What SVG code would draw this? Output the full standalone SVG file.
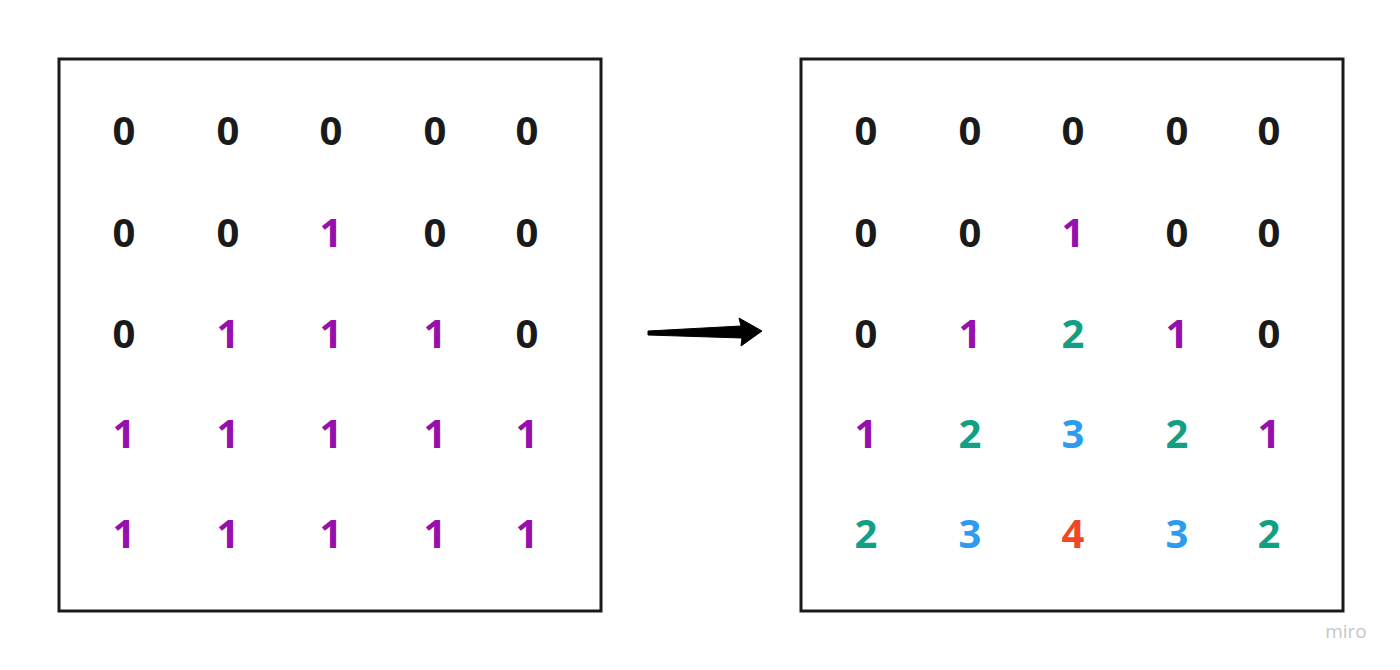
<svg xmlns="http://www.w3.org/2000/svg" width="1400" height="670" viewBox="0 0 1400 670">
<style>
.box{fill:none;stroke:#1a1a1a;stroke-width:3}
text{font-family:"Open Sans","Noto Sans",sans-serif;font-weight:700;font-size:40px;text-anchor:middle}
.k{fill:#1a1a1a}.p{fill:#9510ac}.g{fill:#12a085}.b{fill:#2d9bf0}.r{fill:#f24726}
.w{font-family:"Open Sans",sans-serif;font-weight:400;font-size:19px;fill:#c6c6c6}
</style>
<rect width="1400" height="670" fill="#fff"/>
<g id="left" transform="translate(0,-2)">
<rect class="box" x="59" y="61" width="542" height="552"/>
<text class="k" x="124" y="147">0</text><text class="k" x="228" y="147">0</text><text class="k" x="331" y="147">0</text><text class="k" x="435" y="147">0</text><text class="k" x="527" y="147">0</text>
<text class="k" x="124" y="249">0</text><text class="k" x="228" y="249">0</text><text class="p" x="331" y="249">1</text><text class="k" x="435" y="249">0</text><text class="k" x="527" y="249">0</text>
<text class="k" x="124" y="350">0</text><text class="p" x="228" y="350">1</text><text class="p" x="331" y="350">1</text><text class="p" x="435" y="350">1</text><text class="k" x="527" y="350">0</text>
<text class="p" x="124" y="450">1</text><text class="p" x="228" y="450">1</text><text class="p" x="331" y="450">1</text><text class="p" x="435" y="450">1</text><text class="p" x="527" y="450">1</text>
<text class="p" x="124" y="550">1</text><text class="p" x="228" y="550">1</text><text class="p" x="331" y="550">1</text><text class="p" x="435" y="550">1</text><text class="p" x="527" y="550">1</text>
</g>
<g id="right" transform="translate(0,-2)">
<rect class="box" x="801" y="61" width="542" height="552"/>
<text class="k" x="866" y="147">0</text><text class="k" x="970" y="147">0</text><text class="k" x="1073" y="147">0</text><text class="k" x="1177" y="147">0</text><text class="k" x="1269" y="147">0</text>
<text class="k" x="866" y="249">0</text><text class="k" x="970" y="249">0</text><text class="p" x="1073" y="249">1</text><text class="k" x="1177" y="249">0</text><text class="k" x="1269" y="249">0</text>
<text class="k" x="866" y="350">0</text><text class="p" x="970" y="350">1</text><text class="g" x="1073" y="350">2</text><text class="p" x="1177" y="350">1</text><text class="k" x="1269" y="350">0</text>
<text class="p" x="866" y="450">1</text><text class="g" x="970" y="450">2</text><text class="b" x="1073" y="450">3</text><text class="g" x="1177" y="450">2</text><text class="p" x="1269" y="450">1</text>
<text class="g" x="866" y="550">2</text><text class="b" x="970" y="550">3</text><text class="r" x="1073" y="550">4</text><text class="b" x="1177" y="550">3</text><text class="g" x="1269" y="550">2</text>
</g>
<g id="connectors">
<polygon points="648,331 741,326 739,318 762,331 741,346 742,338 648,335" fill="#000" stroke="#000" stroke-width="1" stroke-linejoin="round"/>
</g>
<text class="w" x="1346" y="638">miro</text>
</svg>
